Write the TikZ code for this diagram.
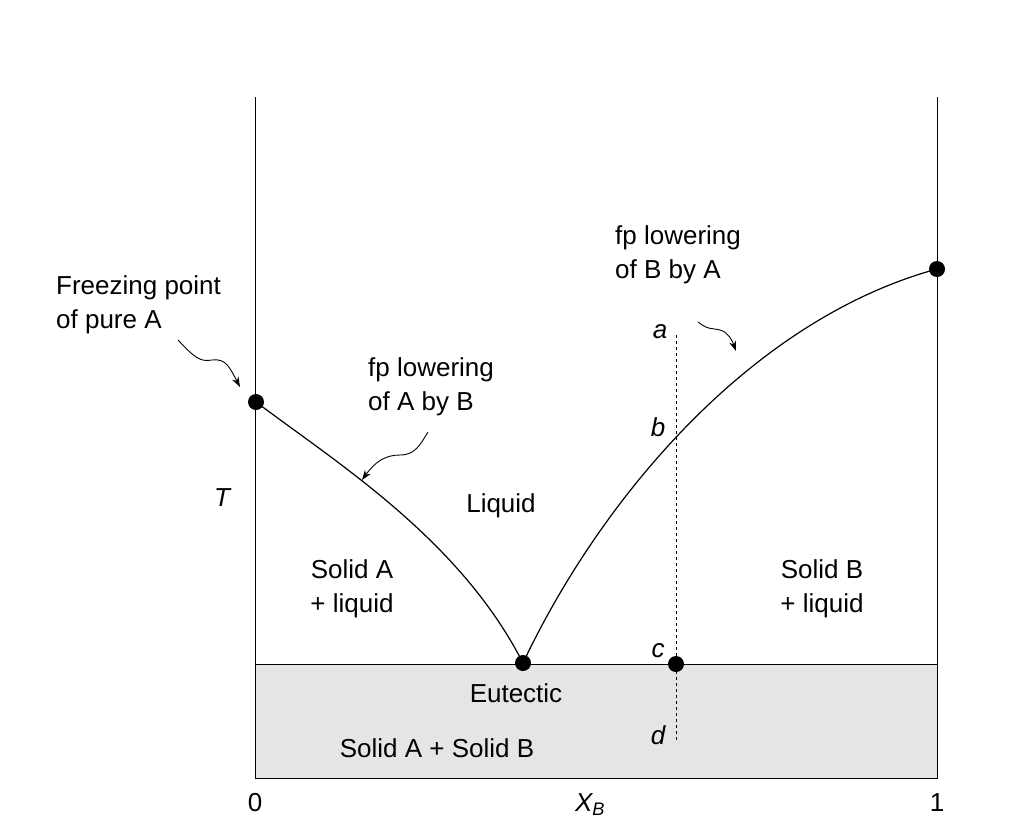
\documentclass[tikz,border=0pt]{standalone}
\usepackage{fontspec}
\setmainfont{Liberation Sans}
\usetikzlibrary{arrows.meta}
\begin{document}
\begin{tikzpicture}[x=1pt,y=-1pt,
  lbl/.style={font=\fontsize{26}{34}\selectfont,inner sep=0pt},
  lblL/.style={lbl,align=left,anchor=west},
  lblC/.style={lbl,align=center},
  dot/.style={circle,fill=black,minimum size=16pt,inner sep=0pt},
  wav/.style={-{Stealth[length=10pt,width=7pt]},line width=0.9pt}]
\useasboundingbox (0,0) rectangle (1034,828);
\fill[gray!20] (255,664) rectangle (937,778);
\draw[line width=1pt] (255,97) -- (255,778) -- (937,778) -- (937,97);
\draw[line width=1pt] (255,664) -- (937,664);
\coordinate (aT) at (676,335);
\coordinate (dB) at (676,740);
\draw[dashed,line width=0.9pt] (aT) -- (dB);
\node[dot] (pA) at (256,402) {};
\node[dot] (eu) at (523,663) {};
\node[dot] (pB) at (937,269) {};
\node[dot] (pc) at (676,664) {};
\draw[line width=1.2pt] (pA.center) .. controls (340,465) and (460,540) .. (eu.center);
\draw[line width=1.2pt] (eu.center) .. controls (600,500) and (750,320) .. (pB.center);
\node[lblC] (n0) at (255,803) {0};
\node[lblC] (n1) at (937,803) {1};
\node[lblC] (xb) at (590,805) {\itshape X\textsubscript{B}};
\node[lblC] (T) at (222,498) {\itshape T};
\node[lblC] (a) at (660,332) {\itshape a};
\node[lblC] (b) at (658,427) {\itshape b};
\node[lblC] (c) at (658,651) {\itshape c};
\node[lblC] (d) at (658,735) {\itshape d};
\node[lblC] (liq) at (501,506) {Liquid};
\node[lblC] (sal) at (352,589) {Solid A\\+ liquid};
\node[lblC] (sbl) at (822,589) {Solid B\\+ liquid};
\node[lblC] (eut) at (516,693) {Eutectic};
\node[lblC] (ss) at (437,748) {Solid A + Solid B};
\node[lblL] (fpA) at (56,305) {Freezing point\\of pure A};
\node[lblL] (lAB) at (368,387) {fp lowering\\of A by B};
\node[lblL] (lBA) at (615,255) {fp lowering\\of B by A};
\coordinate (w1s) at (178,340); \coordinate (w1e) at (240,387);
\coordinate (w2s) at (428,432); \coordinate (w2e) at (362,480);
\coordinate (w3s) at (698,322); \coordinate (w3e) at (736,351);
\draw[wav] (w1s) .. controls (195,358) and (200,362) .. (212,360) .. controls (226,358) and (230,368) .. (w1e);
\draw[wav] (w2s) .. controls (420,445) and (415,455) .. (400,455) .. controls (385,455) and (375,462) .. (w2e);
\draw[wav] (w3s) .. controls (708,330) and (712,328) .. (720,330) .. controls (728,332) and (732,340) .. (w3e);
\end{tikzpicture}
\end{document}
